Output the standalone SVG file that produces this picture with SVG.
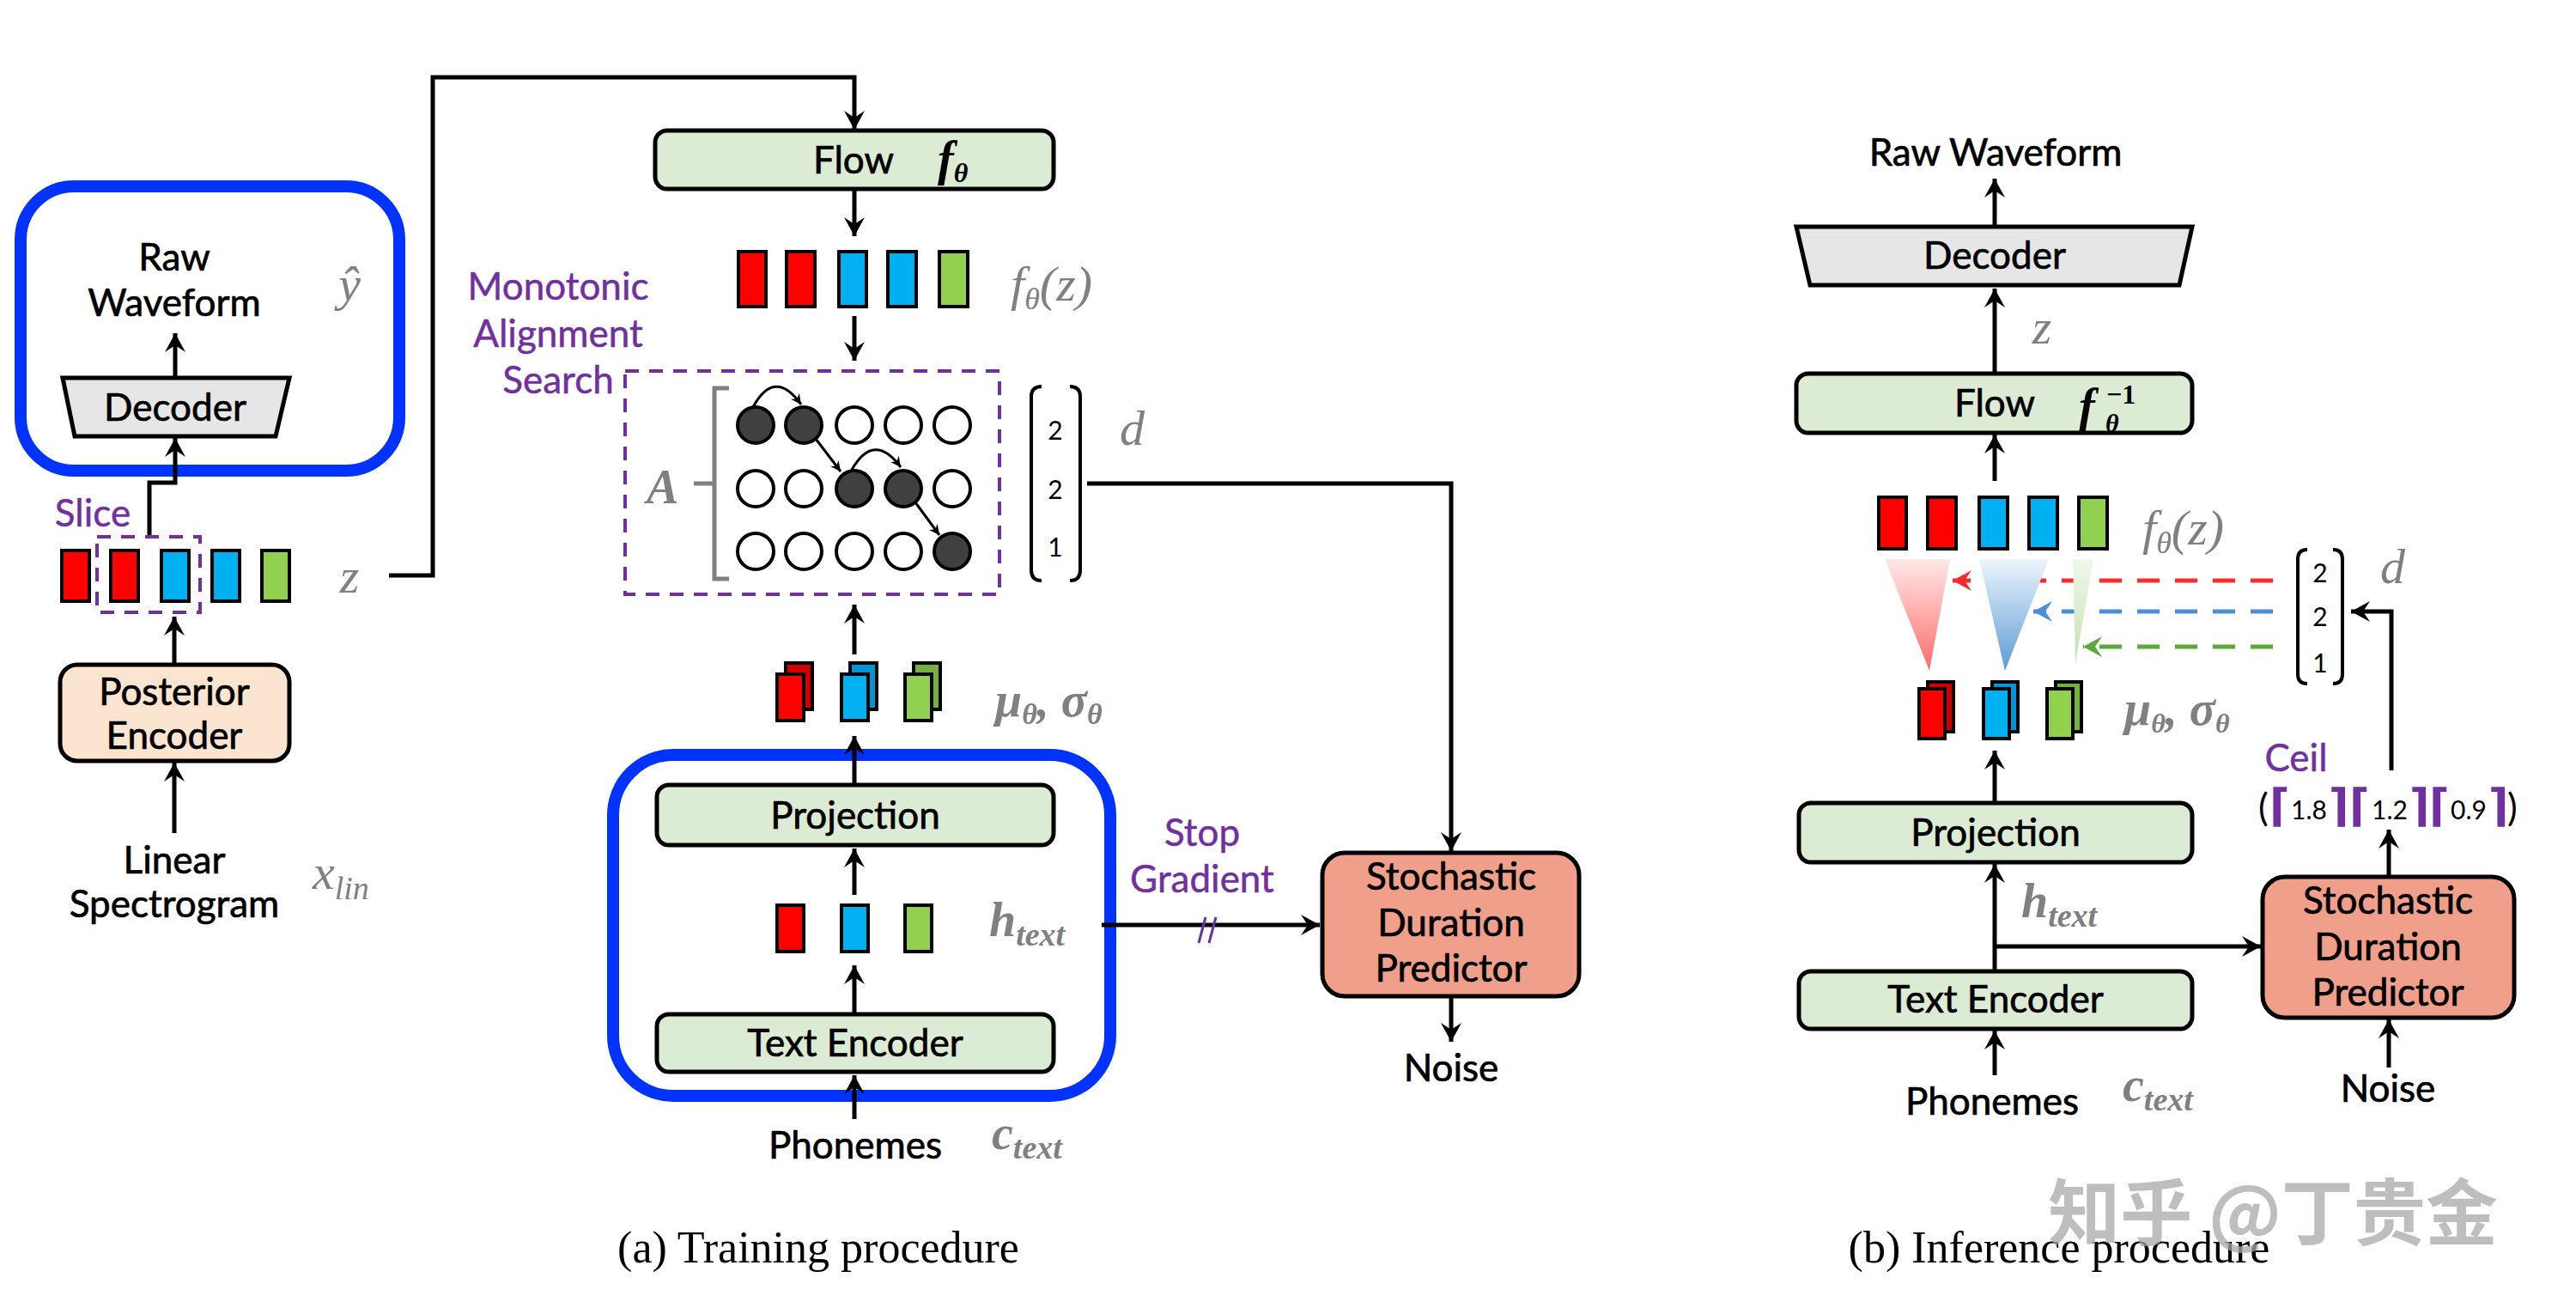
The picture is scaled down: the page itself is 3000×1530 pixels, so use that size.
<svg xmlns="http://www.w3.org/2000/svg" width="3000" height="1530" viewBox="0 0 3000 1530">
<style>
.t{font-family:Lato,"Open Sans","Liberation Sans",sans-serif;font-size:44px;fill:#000;stroke:#000;stroke-width:0.7;text-anchor:middle}
.p{font-family:Lato,"Open Sans","Liberation Sans",sans-serif;font-size:44px;fill:#7030a0;stroke:#7030a0;stroke-width:0.5;text-anchor:middle}
.m{font-family:"Liberation Serif","DejaVu Serif",serif;font-style:italic;font-size:58px;fill:#808080}
.mb{font-family:"Liberation Serif","DejaVu Serif",serif;font-style:italic;font-weight:bold;font-size:56px;fill:#808080}
.cap{font-family:"Liberation Serif","Times New Roman",serif;font-size:52px;fill:#000;text-anchor:middle}
.num{font-family:Lato,"DejaVu Sans",sans-serif;font-size:30px;fill:#000;text-anchor:middle}
.c{stroke:#000;stroke-width:5;fill:none}
.box{stroke:#000;stroke-width:5}
.green{fill:#dcebd3}
.bar{stroke:#000;stroke-width:4}
.r{fill:#ff0000}.b{fill:#00b0f0}.g{fill:#92d050}
.rd{fill:#d00000}.bd{fill:#0096d6}.gd{fill:#76b040}
.blue{fill:none;stroke:#0033ff;stroke-width:14}
.dash{fill:none;stroke:#7030a0;stroke-width:4;stroke-dasharray:16 12}
.oc{fill:#fff;stroke:#000;stroke-width:4}
.fc{fill:#404040;stroke:#000;stroke-width:4}
.cb{font-family:"DejaVu Sans",sans-serif;font-weight:bold;font-size:52px;fill:#7030a0}
</style>
<defs>
<marker id="ah" viewBox="-24 -14 26 28" refX="0" refY="0" markerWidth="26" markerHeight="28" markerUnits="userSpaceOnUse" orient="auto">
<path d="M0,0 L-22,-12 L-14,0 L-22,12 Z" fill="#000"/>
</marker>
<marker id="as" viewBox="-14 -8 16 16" refX="0" refY="0" markerWidth="16" markerHeight="16" markerUnits="userSpaceOnUse" orient="auto">
<path d="M0,0 L-12,-6 L-8,0 L-12,6 Z" fill="#000"/>
</marker>
<marker id="ahr" viewBox="-24 -14 26 28" refX="0" refY="0" markerWidth="26" markerHeight="28" markerUnits="userSpaceOnUse" orient="auto">
<path d="M0,0 L-22,-12 L-14,0 L-22,12 Z" fill="#ff2a2a"/>
</marker>
<marker id="ahb" viewBox="-24 -14 26 28" refX="0" refY="0" markerWidth="26" markerHeight="28" markerUnits="userSpaceOnUse" orient="auto">
<path d="M0,0 L-22,-12 L-14,0 L-22,12 Z" fill="#4a8fd8"/>
</marker>
<marker id="ahg" viewBox="-24 -14 26 28" refX="0" refY="0" markerWidth="26" markerHeight="28" markerUnits="userSpaceOnUse" orient="auto">
<path d="M0,0 L-22,-12 L-14,0 L-22,12 Z" fill="#5ea83a"/>
</marker>
<linearGradient id="gr" x1="0" y1="0" x2="0" y2="1"><stop offset="0" stop-color="#ffe8e8"/><stop offset="1" stop-color="#ff6b6b"/></linearGradient>
<linearGradient id="gb" x1="0" y1="0" x2="0" y2="1"><stop offset="0" stop-color="#eef5fc"/><stop offset="1" stop-color="#5b9bd5"/></linearGradient>
<linearGradient id="gg" x1="0" y1="0" x2="0" y2="1"><stop offset="0" stop-color="#f0f8ea"/><stop offset="1" stop-color="#c5e0b4"/></linearGradient>
</defs>
<rect width="3000" height="1530" fill="#fff"/>

<!-- highlight boxes -->
<g id="highlight-decoder"><rect class="blue" x="24" y="217" width="441" height="331" rx="62"/></g>
<g id="highlight-text"><rect class="blue" x="714" y="879" width="579" height="397" rx="70"/></g>

<!-- connectors -->
<g id="connectors">
<path class="c" d="M204,440 V388" marker-end="url(#ah)"/>
<path class="c" d="M174,625 V562 H204 V510" marker-end="url(#ah)"/>
<path class="c" d="M203,774 V718" marker-end="url(#ah)"/>
<path class="c" d="M203,970 V888" marker-end="url(#ah)"/>
<path class="c" d="M453,670 H504 V90 H995 V151" marker-end="url(#ah)"/>
<path class="c" d="M995,221 V275" marker-end="url(#ah)"/>
<path class="c" d="M995,368 V420" marker-end="url(#ah)"/>
<path class="c" d="M995,762 V704" marker-end="url(#ah)"/>
<path class="c" d="M995,912 V857" marker-end="url(#ah)"/>
<path class="c" d="M995,1042 V988" marker-end="url(#ah)"/>
<path class="c" d="M995,1180 V1124" marker-end="url(#ah)"/>
<path class="c" d="M995,1303 V1252" marker-end="url(#ah)"/>
<path class="c" d="M1266,563 H1690 V991" marker-end="url(#ah)"/>
<path class="c" d="M1283,1077 H1537" marker-end="url(#ah)"/>
<path class="c" d="M1690,1160 V1213" marker-end="url(#ah)"/>
<!-- right -->
<path class="c" d="M2323,264 V208" marker-end="url(#ah)"/>
<path class="c" d="M2323,435 V336" marker-end="url(#ah)"/>
<path class="c" d="M2323,560 V506" marker-end="url(#ah)"/>
<path class="c" d="M2323,935 V874" marker-end="url(#ah)"/>
<path class="c" d="M2323,1131 V1006" marker-end="url(#ah)"/>
<path class="c" d="M2323,1102 H2633" marker-end="url(#ah)"/>
<path class="c" d="M2323,1252 V1200" marker-end="url(#ah)"/>
<path class="c" d="M2782,1243 V1187" marker-end="url(#ah)"/>
<path class="c" d="M2782,1021 V966" marker-end="url(#ah)"/>
<path class="c" d="M2785,897 V712 H2738" marker-end="url(#ah)"/>
<path fill="none" stroke="#ff2a2a" stroke-width="5" stroke-dasharray="26 18" d="M2647,676 H2274" marker-end="url(#ahr)"/>
<path fill="none" stroke="#4a8fd8" stroke-width="5" stroke-dasharray="26 18" d="M2647,712 H2368" marker-end="url(#ahb)"/>
<path fill="none" stroke="#5ea83a" stroke-width="5" stroke-dasharray="26 18" d="M2647,753 H2426" marker-end="url(#ahg)"/>
</g>

<!-- LEFT: training posterior path -->
<g id="raw-waveform-left">
<text class="t" x="203" y="315">Raw</text>
<text class="t" x="203" y="368">Waveform</text>
<text class="m" x="407" y="350" text-anchor="middle">ŷ</text>
</g>
<g id="decoder-left">
<path class="box" d="M73,440 H337 L321,508 H87 Z" fill="#e6e6e6"/>
<text class="t" x="204" y="490">Decoder</text>
</g>
<g id="slice">
<text class="p" x="108" y="613">Slice</text>
<rect class="dash" x="113" y="625" width="120" height="88"/>
</g>
<g id="z-left">
<rect class="bar r" x="72" y="641" width="32" height="59"/>
<rect class="bar r" x="129" y="641" width="32" height="59"/>
<rect class="bar b" x="188" y="641" width="32" height="59"/>
<rect class="bar b" x="247" y="641" width="32" height="59"/>
<rect class="bar g" x="305" y="641" width="32" height="59"/>
<text class="m" x="407" y="690" text-anchor="middle">z</text>
</g>
<g id="posterior-encoder">
<rect class="box" x="70" y="774" width="267" height="112" rx="20" fill="#fbe4d0"/>
<text class="t" x="203" y="821">Posterior</text>
<text class="t" x="203" y="872">Encoder</text>
</g>
<g id="linear-spectrogram">
<text class="t" x="203" y="1017">Linear</text>
<text class="t" x="203" y="1068">Spectrogram</text>
<text class="m" x="364" y="1035">x<tspan font-size="38" dy="12">lin</tspan></text>
</g>

<!-- MIDDLE -->
<g id="flow">
<rect class="box green" x="763" y="152" width="464" height="68" rx="14"/>
<text class="t" x="994" y="202">Flow</text>
<text x="1092" y="204" font-family="'Liberation Serif',serif" font-style="italic" font-weight="bold" font-size="56">f<tspan font-size="32" dy="8">θ</tspan></text>
</g>
<g id="fz-middle">
<rect class="bar r" x="860" y="293" width="32" height="64"/>
<rect class="bar r" x="916" y="293" width="33" height="64"/>
<rect class="bar b" x="977" y="293" width="32" height="64"/>
<rect class="bar b" x="1034" y="293" width="33" height="64"/>
<rect class="bar g" x="1094" y="293" width="33" height="64"/>
<text class="m" x="1177" y="350">f<tspan font-size="36" dy="10">θ</tspan><tspan dy="-10">(z)</tspan></text>
</g>
<g id="mas">
<text class="p" x="650" y="349">Monotonic</text>
<text class="p" x="650" y="404">Alignment</text>
<text class="p" x="650" y="458">Search</text>
<rect class="dash" x="728" y="432" width="436" height="260"/>
<text class="mb" x="753" y="586" font-size="50">A</text>
<path d="M808,563 H832 M849,452 H832 V674 H849" fill="none" stroke="#808080" stroke-width="5"/>
<circle class="fc" cx="880" cy="495" r="21"/>
<circle class="fc" cx="936" cy="495" r="21"/>
<circle class="oc" cx="995" cy="495" r="21"/>
<circle class="oc" cx="1052" cy="495" r="21"/>
<circle class="oc" cx="1109" cy="495" r="21"/>
<circle class="oc" cx="880" cy="569" r="21"/>
<circle class="oc" cx="936" cy="569" r="21"/>
<circle class="fc" cx="995" cy="569" r="21"/>
<circle class="fc" cx="1052" cy="569" r="21"/>
<circle class="oc" cx="1109" cy="569" r="21"/>
<circle class="oc" cx="880" cy="642" r="21"/>
<circle class="oc" cx="936" cy="642" r="21"/>
<circle class="oc" cx="995" cy="642" r="21"/>
<circle class="oc" cx="1052" cy="642" r="21"/>
<circle class="fc" cx="1109" cy="642" r="21"/>
<path d="M877,474 Q902,428 933,471" fill="none" stroke="#000" stroke-width="3" marker-end="url(#as)"/>
<path d="M992,547 Q1018,502 1049,544" fill="none" stroke="#000" stroke-width="3" marker-end="url(#as)"/>
<path d="M950,511 L979,549" fill="none" stroke="#000" stroke-width="3" marker-end="url(#as)"/>
<path d="M1066,585 L1094,623" fill="none" stroke="#000" stroke-width="3" marker-end="url(#as)"/>
</g>
<g id="d-middle">
<path d="M1213,450 Q1201,450 1201,462 V664 Q1201,676 1213,676 M1246,450 Q1258,450 1258,462 V664 Q1258,676 1246,676" fill="none" stroke="#000" stroke-width="4"/>
<text class="num" x="1229" y="512">2</text>
<text class="num" x="1229" y="581">2</text>
<text class="num" x="1229" y="648">1</text>
<text class="m" x="1304" y="518">d</text>
</g>
<g id="mu-middle">
<rect class="bar rd" x="915" y="772" width="31" height="54"/>
<rect class="bar r" x="905" y="785" width="31" height="54"/>
<rect class="bar bd" x="990" y="772" width="31" height="54"/>
<rect class="bar b" x="980" y="785" width="31" height="54"/>
<rect class="bar gd" x="1064" y="772" width="31" height="54"/>
<rect class="bar g" x="1054" y="785" width="31" height="54"/>
<text class="mb" x="1159" y="834" font-size="54">μ<tspan font-size="34" dy="9">θ</tspan><tspan dy="-9">, σ</tspan><tspan font-size="34" dy="9">θ</tspan></text>
</g>
<g id="projection-middle">
<rect class="box green" x="765" y="914" width="462" height="70" rx="14"/>
<text class="t" x="996" y="965">Projection</text>
</g>
<g id="htext-middle">
<rect class="bar r" x="905" y="1054" width="31" height="54"/>
<rect class="bar b" x="980" y="1054" width="31" height="54"/>
<rect class="bar g" x="1054" y="1054" width="31" height="54"/>
<text class="mb" x="1152" y="1090">h<tspan font-size="38" dy="11">text</tspan></text>
</g>
<g id="text-encoder-middle">
<rect class="box green" x="765" y="1181" width="462" height="67" rx="14"/>
<text class="t" x="996" y="1230">Text Encoder</text>
</g>
<g id="phonemes-middle">
<text class="t" x="996" y="1349">Phonemes</text>
<text class="mb" x="1155" y="1338">c<tspan font-size="38" dy="11">text</tspan></text>
</g>
<g id="stop-gradient">
<text class="p" x="1400" y="985">Stop</text>
<text class="p" x="1400" y="1039">Gradient</text>
<path d="M1396,1098 L1404,1068 M1408,1098 L1416,1068" stroke="#7030a0" stroke-width="3" fill="none"/>
</g>
<g id="sdp-middle">
<rect class="box" x="1540" y="993" width="299" height="167" rx="26" fill="#ef9f8a"/>
<text class="t" x="1690" y="1036">Stochastic</text>
<text class="t" x="1690" y="1090">Duration</text>
<text class="t" x="1690" y="1143">Predictor</text>
</g>
<g id="noise-middle"><text class="t" x="1690" y="1259">Noise</text></g>
<text class="cap" x="953" y="1470">(a) Training procedure</text>

<!-- RIGHT: inference -->
<g id="raw-waveform-right"><text class="t" x="2324" y="193">Raw Waveform</text></g>
<g id="decoder-right">
<path class="box" d="M2092,264 H2553 L2538,332 H2108 Z" fill="#e6e6e6"/>
<text class="t" x="2323" y="313">Decoder</text>
<text class="m" x="2378" y="400" text-anchor="middle" font-size="52">z</text>
</g>
<g id="flow-right">
<rect class="box green" x="2092" y="435" width="461" height="69" rx="14"/>
<text class="t" x="2323" y="485">Flow</text>
<text x="2421" y="492" font-family="'Liberation Serif',serif" font-style="italic" font-weight="bold" font-size="56">f</text>
<text x="2453" y="470" font-family="'Liberation Serif',serif" font-weight="bold" font-size="32">−1</text>
<text x="2452" y="503" font-family="'Liberation Serif',serif" font-style="italic" font-weight="bold" font-size="30">θ</text>
</g>
<g id="fz-right">
<rect class="bar r" x="2188" y="579" width="32" height="60"/>
<rect class="bar r" x="2245" y="579" width="33" height="60"/>
<rect class="bar b" x="2305" y="579" width="33" height="60"/>
<rect class="bar b" x="2363" y="579" width="33" height="60"/>
<rect class="bar g" x="2421" y="579" width="33" height="60"/>
<text class="m" x="2495" y="634">f<tspan font-size="36" dy="10">θ</tspan><tspan dy="-10">(z)</tspan></text>
</g>
<g id="expansion">
<path d="M2195,651 H2271 L2247,781 Z" fill="url(#gr)"/>
<path d="M2305,651 H2386 L2335,781 Z" fill="url(#gb)"/>
<path d="M2414,651 H2438 L2417,772 Z" fill="url(#gg)"/>
</g>
<g id="d-right">
<path d="M2687,640 Q2676,640 2676,651 V785 Q2676,796 2687,796 M2717,640 Q2728,640 2728,651 V785 Q2728,796 2717,796" fill="none" stroke="#000" stroke-width="4"/>
<text class="num" x="2702" y="678">2</text>
<text class="num" x="2702" y="729">2</text>
<text class="num" x="2702" y="783">1</text>
<text class="m" x="2772" y="679">d</text>
</g>
<g id="mu-right">
<rect class="bar rd" x="2245" y="794" width="30" height="58"/>
<rect class="bar r" x="2235" y="802" width="30" height="58"/>
<rect class="bar bd" x="2320" y="794" width="30" height="58"/>
<rect class="bar b" x="2310" y="802" width="30" height="58"/>
<rect class="bar gd" x="2394" y="794" width="30" height="58"/>
<rect class="bar g" x="2384" y="802" width="30" height="58"/>
<text class="mb" x="2474" y="844" font-size="52">μ<tspan font-size="32" dy="9">θ</tspan><tspan dy="-9">, σ</tspan><tspan font-size="32" dy="9">θ</tspan></text>
</g>
<g id="projection-right">
<rect class="box green" x="2095" y="935" width="458" height="69" rx="14"/>
<text class="t" x="2324" y="985">Projection</text>
</g>
<g id="htext-right"><text class="mb" x="2354" y="1068">h<tspan font-size="38" dy="11">text</tspan></text></g>
<g id="text-encoder-right">
<rect class="box green" x="2095" y="1131" width="458" height="67" rx="14"/>
<text class="t" x="2324" y="1179">Text Encoder</text>
</g>
<g id="phonemes-right">
<text class="t" x="2320" y="1298">Phonemes</text>
<text class="mb" x="2472" y="1282">c<tspan font-size="38" dy="11">text</tspan></text>
</g>
<g id="sdp-right">
<rect class="box" x="2635" y="1021" width="293" height="164" rx="26" fill="#ef9f8a"/>
<text class="t" x="2781" y="1064">Stochastic</text>
<text class="t" x="2781" y="1118">Duration</text>
<text class="t" x="2781" y="1171">Predictor</text>
</g>
<g id="ceil">
<text class="p" x="2674" y="898" font-size="40">Ceil</text>
<text x="2630" y="956" font-family="Lato,sans-serif" font-size="44" fill="#000">(</text>
<text class="cb" x="2643" y="956">⌈</text>
<text class="cb" x="2712" y="956">⌉</text>
<text class="cb" x="2736" y="956">⌈</text>
<text class="cb" x="2806" y="956">⌉</text>
<text class="cb" x="2829" y="956">⌈</text>
<text class="cb" x="2898" y="956">⌉</text>
<text x="2920" y="956" font-family="Lato,sans-serif" font-size="44" fill="#000">)</text>
<text class="num" x="2689" y="954" font-size="34">1.8</text>
<text class="num" x="2783" y="954" font-size="34">1.2</text>
<text class="num" x="2875" y="954" font-size="34">0.9</text>
</g>
<g id="noise-right"><text class="t" x="2781" y="1283">Noise</text></g>
<text class="cap" x="2398" y="1470">(b) Inference procedure</text>
<text x="2647" y="1443" text-anchor="middle" font-family="'Noto Sans CJK SC',sans-serif" font-weight="bold" font-size="84" fill="#a8a8a8" fill-opacity="0.75">知乎 @丁贵金</text>
</svg>
